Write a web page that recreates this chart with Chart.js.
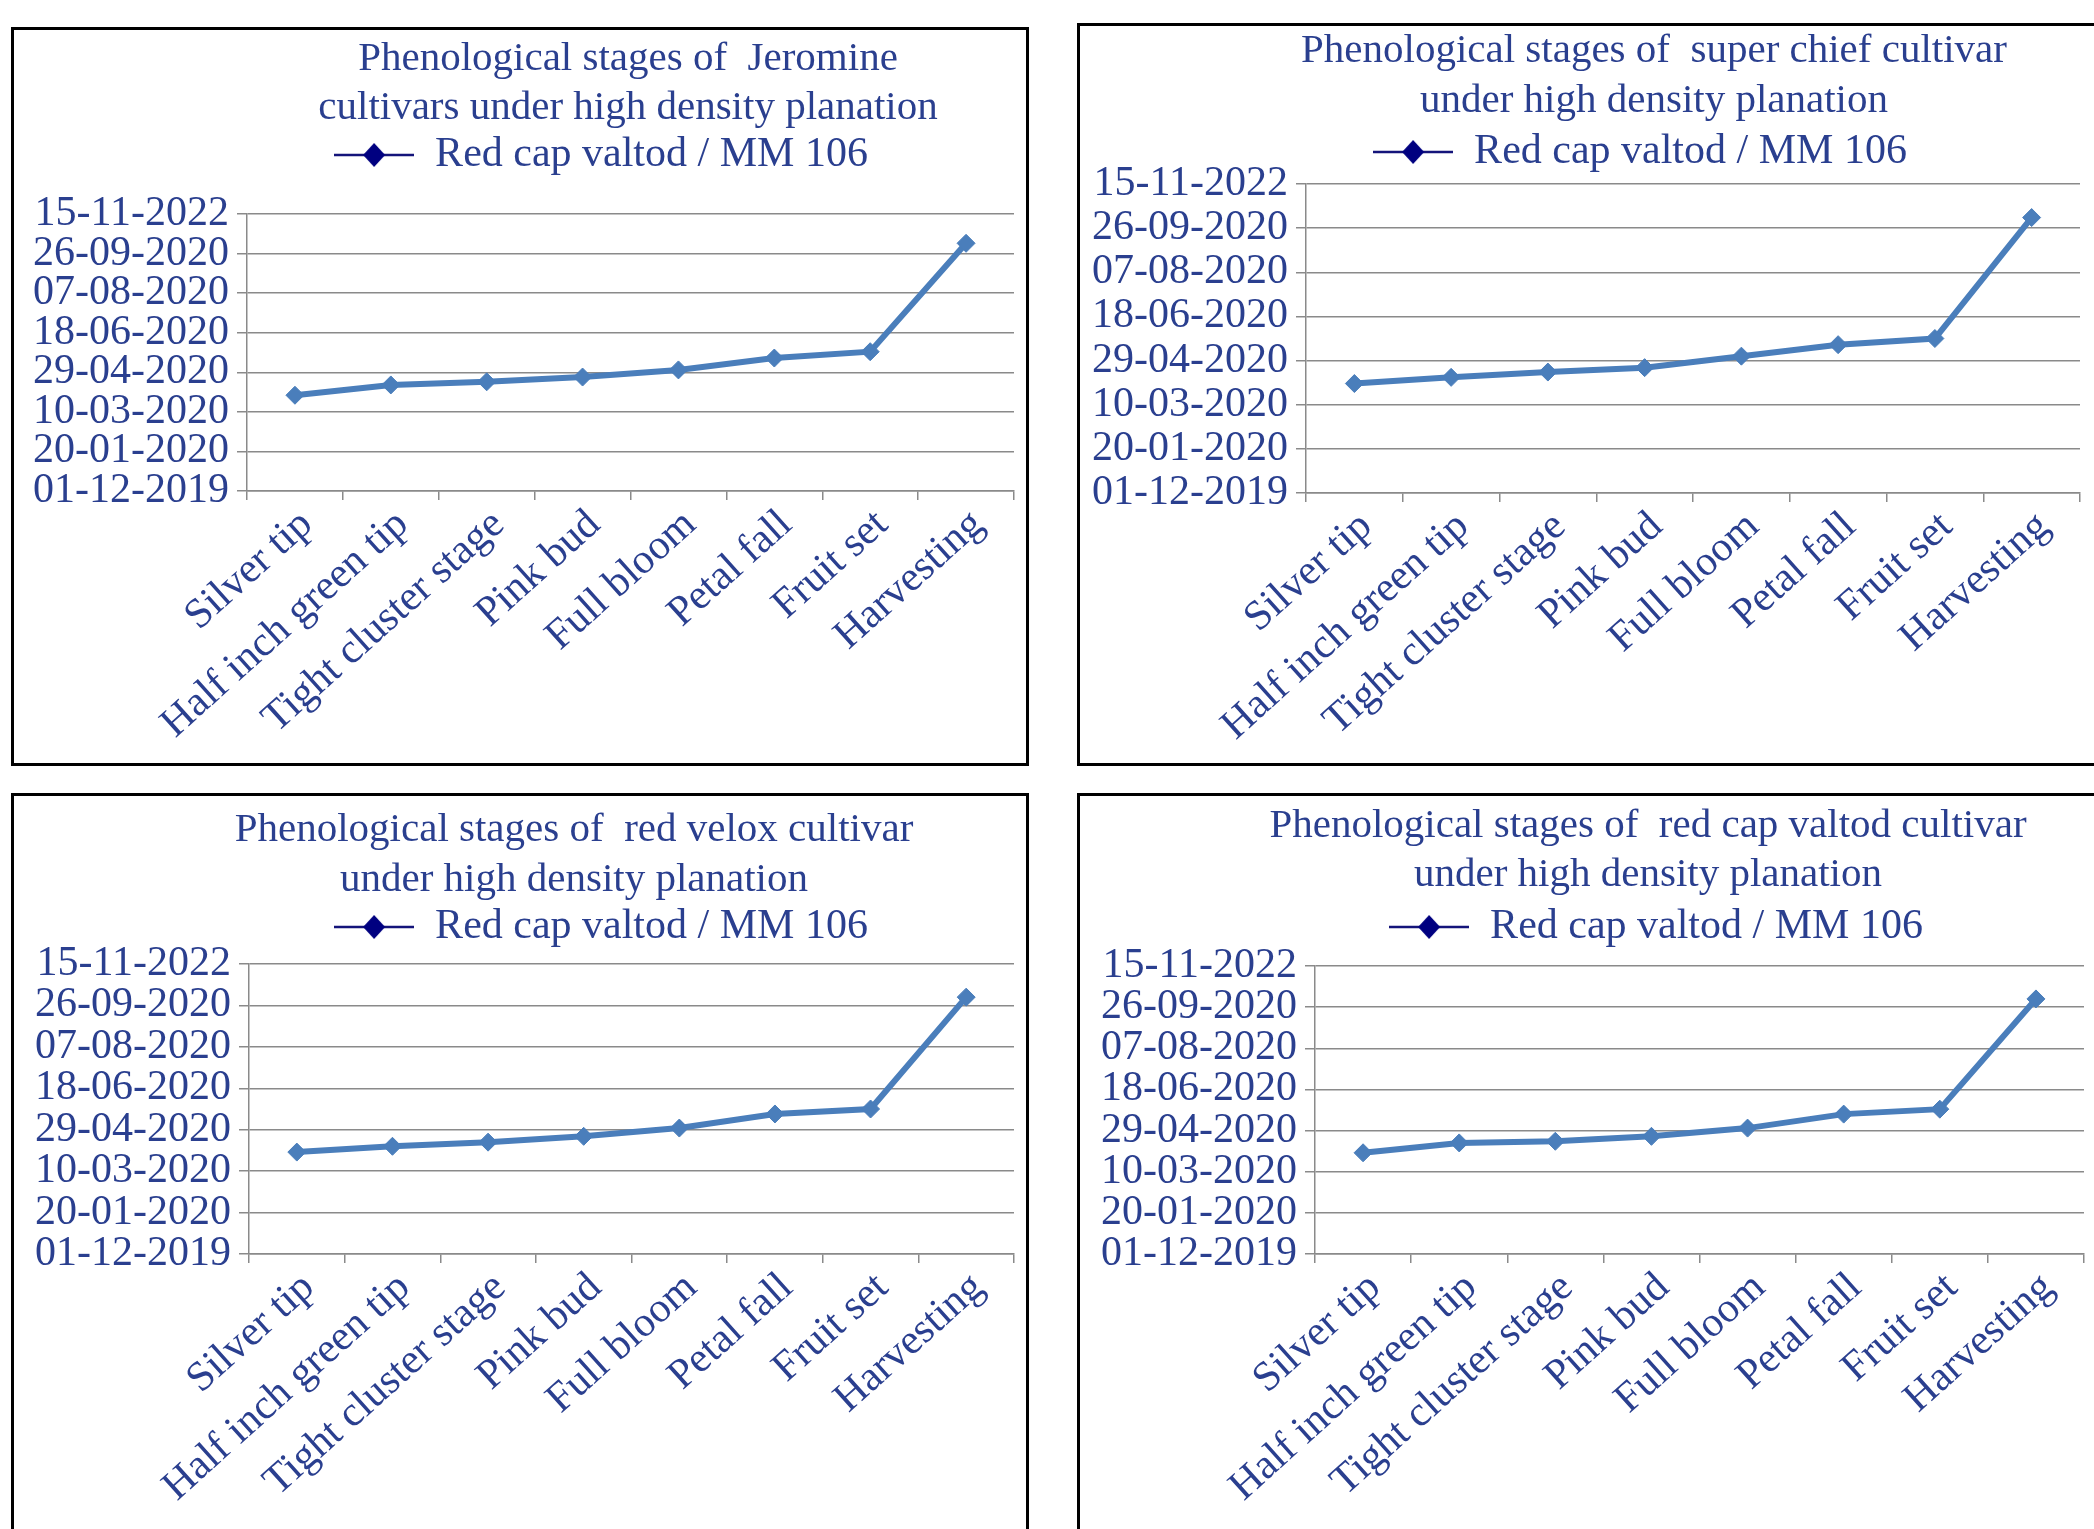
<!DOCTYPE html>
<html><head><meta charset="utf-8">
<script src="https://cdn.jsdelivr.net/npm/chart.js@4.4.1/dist/chart.umd.min.js"></script>
<style>
html,body{margin:0;padding:0;background:#fff;width:2094px;height:1529px;overflow:hidden;position:relative}
.panel{position:absolute;border:3px solid #000;box-sizing:border-box;background:#fff}
canvas{position:absolute}
</style></head><body>
<div class="panel" style="left:11px;top:27px;width:1018px;height:739px"></div>
<div class="panel" style="left:1077px;top:23px;width:1040px;height:743px"></div>
<div class="panel" style="left:11px;top:793px;width:1018px;height:760px"></div>
<div class="panel" style="left:1077px;top:793px;width:1040px;height:760px"></div>
<canvas id="c1"></canvas><canvas id="c2"></canvas><canvas id="c3"></canvas><canvas id="c4"></canvas>
<script>
// ---------- data ----------
const stages = ["Silver tip","Half inch green tip","Tight cluster stage","Pink bud","Full bloom","Petal fall","Fruit set","Harvesting"];
const yTickLabels = ["01-12-2019","20-01-2020","10-03-2020","29-04-2020","18-06-2020","07-08-2020","26-09-2020","15-11-2022"];
const axisOrigin = "01-12-2019";
const tickStepDays = 50;
const seriesName = "Red cap valtod / MM 106";

const titleJeromine = ["Phenological stages of  Jeromine", "cultivars under high density planation"];
const titleSuperChief = ["Phenological stages of  super chief cultivar", "under high density planation"];
const titleRedVelox = ["Phenological stages of  red velox cultivar", "under high density planation"];
const titleRedCapValtod = ["Phenological stages of  red cap valtod cultivar", "under high density planation"];

const jeromineDates = ["31-03-2020","13-04-2020","17-04-2020","23-04-2020","02-05-2020","17-05-2020","25-05-2020","09-10-2020"];
const superChiefDates = ["03-04-2020","10-04-2020","16-04-2020","21-04-2020","04-05-2020","17-05-2020","24-05-2020","08-10-2020"];
const redVeloxDates = ["02-04-2020","09-04-2020","14-04-2020","21-04-2020","01-05-2020","18-05-2020","24-05-2020","06-10-2020"];
const redCapValtodDates = ["02-04-2020","14-04-2020","16-04-2020","22-04-2020","02-05-2020","19-05-2020","25-05-2020","06-10-2020"];

// ---------- helpers ----------
function dayNum(s){ const [d,m,y]=s.split('-').map(Number); return Date.UTC(y,m-1,d)/86400000; }
function daysFromOrigin(s){ return dayNum(s)-dayNum(axisOrigin); }

const FONT = "'Liberation Serif', 'Times New Roman', serif";
const TEXT = "#2a3f8f";
const GRID = "#8a8a8a";
const LINE = "#4a7ebb";

function legendSymbol(){
  const c=document.createElement('canvas'); c.width=80; c.height=26;
  const g=c.getContext('2d');
  g.strokeStyle='#14147a'; g.lineWidth=2.5;
  g.beginPath(); g.moveTo(0,13); g.lineTo(80,13); g.stroke();
  g.fillStyle='#000080';
  g.beginPath(); g.moveTo(40,1); g.lineTo(51,13); g.lineTo(40,25); g.lineTo(29,13); g.closePath(); g.fill();
  return c;
}
const SYM = legendSymbol();

// plugin: place title and legend blocks (as in the source, manually positioned)
const placeText = {
  id:'placeText',
  afterLayout(chart){
    const o = chart.options.plugins.placeText; if(!o) return;
    const t = chart.titleBlock, l = chart.legend;
    if(t){ const lh=t.options.font.lineHeight*t.options.font.size; t.left=o.tx-700; t.right=o.tx+700; t.width=1400; t.top=o.ty-lh/2; }
    if(l){ const fs=l.options.labels.font.size; l.left=o.lx-600; l.right=o.lx+600; l.width=1200; l.top=o.ly-fs/2; }
  }
};
Chart.register(placeText);

function makeChart(id, titleLines, dates, L){
  const cv=document.getElementById(id);
  const [cx,cy,cw,ch]=L.canvas;
  cv.width=cw; cv.height=ch; cv.style.left=cx+'px'; cv.style.top=cy+'px'; cv.style.width=cw+'px'; cv.style.height=ch+'px';
  const [pl,pt,pr,pb]=L.plot;
  const values = dates.map(daysFromOrigin);
  return new Chart(cv,{
    type:'line',
    data:{labels:stages, datasets:[{label:seriesName, data:values, borderColor:LINE, backgroundColor:LINE, borderWidth:6,
      pointStyle:'rectRot', pointRadius:9, pointBackgroundColor:LINE, pointBorderColor:LINE, pointBorderWidth:1, tension:0, fill:false}]},
    options:{
      responsive:false, animation:false, devicePixelRatio:1,
      layout:{padding:{left:0,top:0,right:(cx+cw)-pr,bottom:0}},
      plugins:{
        title:{display:true, text:titleLines, color:TEXT, font:{family:FONT,size:41,weight:'normal',lineHeight:49.5/41}, padding:0, fullSize:false},
        legend:{display:true, fullSize:false, labels:{usePointStyle:true, pointStyle:SYM, pointStyleWidth:80, color:TEXT, font:{family:FONT,size:42}, padding:0}},
        tooltip:{enabled:false},
        placeText:{tx:L.title[0]-cx, ty:L.title[1]-cy, lx:L.legend[0]-cx, ly:L.legend[1]-cy}
      },
      scales:{
        x:{type:'category', offset:true,
          grid:{display:true, drawOnChartArea:false, drawTicks:true, tickLength:9, offset:true, color:GRID, lineWidth:1.5},
          border:{display:true, color:GRID, width:1.5},
          ticks:{color:TEXT, font:{family:FONT,size:42}, minRotation:42, maxRotation:42, autoSkip:false, padding:0, labelOffset:12},
          afterFit(s){ s.height=(cy+ch)-pb; s.paddingLeft=0; s.paddingRight=0; }
        },
        y:{type:'linear', min:0, max:tickStepDays*(yTickLabels.length-1),
          ticks:{stepSize:tickStepDays, autoSkip:false, color:TEXT, font:{family:FONT,size:42}, padding:8,
            callback:(v,i)=>yTickLabels[i]},
          grid:{color:GRID, lineWidth:1.5, tickLength:10, drawTicks:true},
          border:{display:true, color:GRID, width:1.5},
          afterFit(s){ s.width=pl-cx; s.paddingTop=pt-cy; s.paddingBottom=0; }
        }
      }
    }
  });
}

makeChart('c1', titleJeromine, jeromineDates, {canvas:[14,30,1011,732], plot:[247,214,1014,491], title:[628,59], legend:[601,155]});
makeChart('c2', titleSuperChief, superChiefDates, {canvas:[1080,26,1014,736], plot:[1306,184,2080,493], title:[1654,51.5], legend:[1640,152]});
makeChart('c3', titleRedVelox, redVeloxDates, {canvas:[14,796,1011,733], plot:[249,964,1014,1254], title:[574,830.5], legend:[601,927]});
makeChart('c4', titleRedCapValtod, redCapValtodDates, {canvas:[1080,796,1014,733], plot:[1315,966,2085,1254], title:[1648,826], legend:[1656,927]});
</script>
</body></html>
